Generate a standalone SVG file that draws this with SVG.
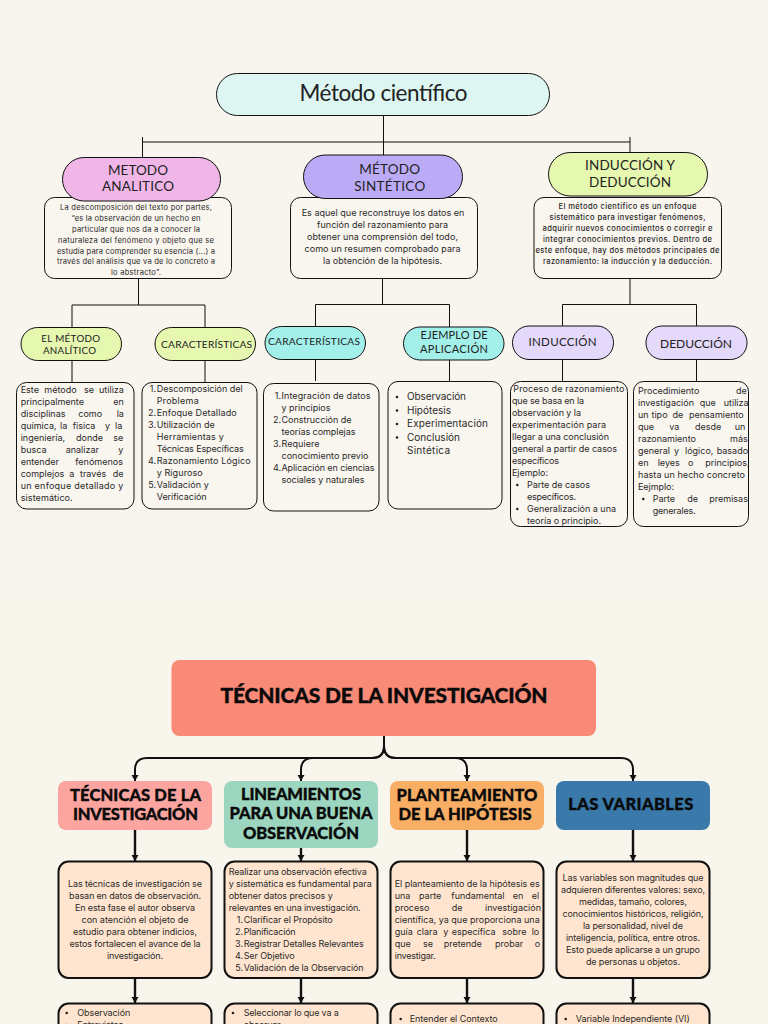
<svg xmlns="http://www.w3.org/2000/svg" width="768" height="1024" viewBox="0 0 768 1024">
<style>
text{font-family:"Inter","Liberation Sans",sans-serif;fill:#2a2a2a}
.m{text-anchor:middle}
.e{text-anchor:end}
.t{font-family:"Lato","Liberation Sans",sans-serif;fill:#222}
.h{font-family:"Lato","Liberation Sans",sans-serif;font-weight:900;fill:#0a0a0a;text-anchor:middle;stroke:#0a0a0a;stroke-width:.35px}
.s8{font-size:7.6px}
.s9{font-size:9px}
.b{fill:#f9f5ef;stroke:#111;stroke-width:1}
.p{stroke:#111;stroke-width:1}
.c{fill:none;stroke:#111;stroke-width:1}
.k{fill:none;stroke:#111;stroke-width:2}
.a{fill:none;stroke:#111;stroke-width:2.4}
.o{fill:#ffe5cf;stroke:#111;stroke-width:2}
.d{fill:#222}
</style>
<defs>
<marker id="ah" markerUnits="userSpaceOnUse" markerWidth="8" markerHeight="8" refX="7" refY="4" orient="auto"><path d="M1 0.5L7 4L1 7.5Z" fill="#111"/></marker>
</defs>
<rect x="0" y="0" width="768" height="600" fill="#f8f4ee"/>
<rect x="0" y="600" width="768" height="424" fill="#f8f5ec"/>
<g id="connectors">
<path class="c" d="M383.500 115V155M142.500 142H630M142.500 137V157M630 137V153"/>
<path class="c" d="M138.500 278V305M72 305H205M72 305V328M205 305V328M72 360V383M205 360V383"/>
<path class="c" d="M382.500 278V304.500M315.500 304.500H449.500M315.500 304.500V327M449.500 304.500V327M315.500 359V381M449.500 360V382"/>
<path class="c" d="M630 278V304.500M562.500 304.500H696.500M562.500 304.500V326M696.500 304.500V326M562.500 359V382M696.500 359V382"/>
<path class="k" d="M384 736V746Q384 758 372 758H147Q135 758 135 770V781" marker-end="url(#ah)"/>
<path class="k" d="M384 746Q384 758 372 758H313Q301 758 301 770V781" marker-end="url(#ah)"/>
<path class="k" d="M384 746Q384 758 396 758H455Q467 758 467 770V781" marker-end="url(#ah)"/>
<path class="k" d="M384 746Q384 758 396 758H621Q633 758 633 770V781" marker-end="url(#ah)"/>
<path class="a" d="M135 830V861" marker-end="url(#ah)"/>
<path class="a" d="M301 848V861" marker-end="url(#ah)"/>
<path class="a" d="M467 830V861" marker-end="url(#ah)"/>
<path class="a" d="M633 830V861" marker-end="url(#ah)"/>
<path class="a" d="M135 978V1003" marker-end="url(#ah)"/>
<path class="a" d="M301 978V1003" marker-end="url(#ah)"/>
<path class="a" d="M467 978V1003" marker-end="url(#ah)"/>
<path class="a" d="M633 978V1003" marker-end="url(#ah)"/>
</g>
<g id="n-metodo-cientifico">
<rect x="216.500" y="73.500" width="333" height="42" rx="21" fill="#ddf6f2" class="p"/>
<text x="383.500" y="100.700" class="m t" font-size="22.500" textLength="168">Método científico</text>
</g>
<g id="n-analitico-desc">
<rect class="b" x="44.500" y="197.500" width="187" height="81" rx="10"/>
<g class="s8">
<text x="136" y="210" class="m" textLength="152">La descomposición del texto por partes,</text>
<text x="136" y="221" class="m" textLength="129">“es la observación de un hecho en</text>
<text x="136" y="232" class="m" textLength="128">particular que nos da a conocer la</text>
<text x="136" y="242.500" class="m" textLength="156">naturaleza del fenómeno y objeto que se</text>
<text x="136" y="253.500" class="m" textLength="158">estudia para comprender su esencia (...) a</text>
<text x="136" y="264" class="m" textLength="158">través del análisis que va de lo concreto a</text>
<text x="136" y="274.500" class="m" textLength="50">lo abstracto”.</text>
</g>
</g>
<g id="n-analitico">
<rect x="62.500" y="157.500" width="158" height="43.500" rx="21.700" fill="#f0b6e8" class="p"/>
<text x="138" y="175" class="m t" font-size="13.500" textLength="60">METODO</text>
<text x="138" y="191" class="m t" font-size="13.500" textLength="72">ANALITICO</text>
</g>
<g id="n-sintetico-desc">
<rect class="b" x="290.500" y="197.500" width="187" height="81" rx="10"/>
<g class="s9">
<text x="383" y="216.300" class="m" textLength="162.700">Es aquel que reconstruye los datos en</text>
<text x="382.500" y="228.300" class="m" textLength="131">función del razonamiento para</text>
<text x="382.500" y="240.300" class="m" textLength="151">obtener una comprensión del todo,</text>
<text x="382.500" y="252.300" class="m" textLength="156">como un resumen comprobado para</text>
<text x="382.500" y="264.300" class="m" textLength="119">la obtención de la hipótesis.</text>
</g>
</g>
<g id="n-sintetico">
<rect x="303.500" y="155" width="159" height="43.500" rx="21.700" fill="#bbabf6" class="p"/>
<text x="389.700" y="174" class="m t" font-size="13.500" textLength="60.700">MÉTODO</text>
<text x="389.700" y="191" class="m t" font-size="13.500" textLength="71">SINTÉTICO</text>
</g>
<g id="n-induccion-desc">
<rect class="b" x="534" y="197.500" width="187.500" height="81" rx="10"/>
<g class="s8" font-weight="500">
<text x="627.500" y="209" class="m" textLength="138">El método científico es un enfoque</text>
<text x="627.500" y="220" class="m" textLength="156">sistemático para investigar fenómenos,</text>
<text x="627.500" y="231" class="m" textLength="170">adquirir nuevos conocimientos o corregir e</text>
<text x="627.500" y="242" class="m" textLength="169">integrar conocimientos previos. Dentro de</text>
<text x="627.500" y="253" class="m" textLength="184">este enfoque, hay dos métodos principales de</text>
<text x="627.500" y="264" class="m" textLength="169">razonamiento: la inducción y la deducción.</text>
</g>
</g>
<g id="n-induccion">
<rect x="548.500" y="152.500" width="159" height="43.500" rx="21.700" fill="#e6f7b0" class="p"/>
<text x="630" y="170" class="m t" font-size="13.500" textLength="90">INDUCCIÓN Y</text>
<text x="630" y="187" class="m t" font-size="13.500" textLength="82">DEDUCCIÓN</text>
</g>
<g id="n-el-metodo">
<rect x="21" y="327.500" width="100.500" height="33" rx="16.500" fill="#e6f7b0" class="p"/>
<text x="70.700" y="342" class="m t" font-size="9.800" textLength="59">EL MÉTODO</text>
<text x="69.500" y="354" class="m t" font-size="9.800" textLength="53">ANALÍTICO</text>
</g>
<g id="n-caract-1">
<rect x="155" y="327.500" width="100.500" height="33" rx="16.500" fill="#e6f7b0" class="p"/>
<text x="206.600" y="347.500" class="m t" font-size="10.200" textLength="91">CARACTERÍSTICAS</text>
</g>
<g id="n-caract-2">
<rect x="265" y="326.500" width="100.500" height="33" rx="16.500" fill="#a3f0ea" class="p"/>
<text x="314" y="345" class="m t" font-size="10.200" textLength="92">CARACTERÍSTICAS</text>
</g>
<g id="n-ejemplo">
<rect x="403.500" y="327" width="100.500" height="33" rx="16.500" fill="#a3f0ea" class="p"/>
<text x="454" y="339" class="m t" font-size="11" textLength="67">EJEMPLO DE</text>
<text x="454" y="353" class="m t" font-size="11" textLength="68">APLICACIÓN</text>
</g>
<g id="n-ind">
<rect x="512.500" y="326" width="101" height="33.500" rx="16.500" fill="#e4d8fb" class="p"/>
<text x="562.500" y="346" class="m t" font-size="11.500" textLength="68">INDUCCIÓN</text>
</g>
<g id="n-ded">
<rect x="646" y="326" width="101" height="33.500" rx="16.500" fill="#e4d8fb" class="p"/>
<text x="696" y="348" class="m t" font-size="12" textLength="72">DEDUCCIÓN</text>
</g>
<g id="n-box-1" class="s9">
<rect class="b" x="16.500" y="382.500" width="117.500" height="126.500" rx="10"/>
<text y="393.300"><tspan x="20.700">Este</tspan> <tspan x="44.300">método</tspan> <tspan x="84">se</tspan> <tspan x="99">utiliza</tspan></text>
<text y="405.300"><tspan x="20.700">principalmente</tspan> <tspan x="113.300">en</tspan></text>
<text y="417.300"><tspan x="20.700">disciplinas</tspan> <tspan x="78.300">como</tspan> <tspan x="116.700">la</tspan></text>
<text y="429.300"><tspan x="20.700">química,</tspan> <tspan x="60">la</tspan> <tspan x="72.700">física</tspan> <tspan x="105">y</tspan> <tspan x="115">la</tspan></text>
<text y="441.300"><tspan x="20.700">ingeniería,</tspan> <tspan x="76">donde</tspan> <tspan x="113.300">se</tspan></text>
<text y="453.300"><tspan x="20.700">busca</tspan> <tspan x="65.700">analizar</tspan> <tspan x="118.300">y</tspan></text>
<text y="465.300"><tspan x="20.700">entender</tspan> <tspan x="75.300">fenómenos</tspan></text>
<text y="477.300"><tspan x="20.700">complejos</tspan> <tspan x="69.300">a</tspan> <tspan x="80">través</tspan> <tspan x="112.700">de</tspan></text>
<text y="489.300" x="20.700" textLength="102.600">un enfoque detallado y</text>
<text y="501.300" x="20.700" textLength="52">sistemático.</text>
</g>
<g id="n-box-2" class="s9">
<rect class="b" x="142" y="382.500" width="115" height="126.500" rx="10"/>
<text x="156" y="392" class="e">1.</text><text x="156.700" y="392" textLength="86">Descomposición del</text>
<text x="156.700" y="404" textLength="42">Problema</text>
<text x="156" y="416" class="e">2.</text><text x="156.700" y="416" textLength="80">Enfoque Detallado</text>
<text x="156" y="428" class="e">3.</text><text x="156.700" y="428" textLength="58">Utilización de</text>
<text x="156.700" y="440" textLength="67">Herramientas y</text>
<text x="156.700" y="452" textLength="87">Técnicas Específicas</text>
<text x="156" y="464" class="e">4.</text><text x="156.700" y="464" textLength="94">Razonamiento Lógico</text>
<text x="156.700" y="476" textLength="46">y Riguroso</text>
<text x="156" y="488" class="e">5.</text><text x="156.700" y="488" textLength="52">Validación y</text>
<text x="156.700" y="500" textLength="50">Verificación</text>
</g>
<g id="n-box-3" class="s9">
<rect class="b" x="263.500" y="383.500" width="115.500" height="127.500" rx="10"/>
<text x="281" y="399" class="e">1.</text><text x="281.500" y="399" textLength="89">Integración de datos</text>
<text x="281.500" y="411" textLength="49">y principios</text>
<text x="281" y="423" class="e">2.</text><text x="281.500" y="423" textLength="70">Construcción de</text>
<text x="281.500" y="435" textLength="74">teorías complejas</text>
<text x="281" y="447" class="e">3.</text><text x="281.500" y="447" textLength="38">Requiere</text>
<text x="281.500" y="459" textLength="87">conocimiento previo</text>
<text x="281" y="471" class="e">4.</text><text x="281.500" y="471" textLength="93">Aplicación en ciencias</text>
<text x="281.500" y="483" textLength="83">sociales y naturales</text>
</g>
<g id="n-box-4" style="font-size:10px">
<rect class="b" x="388" y="381.500" width="114" height="127.500" rx="10"/>
<circle class="d" cx="397" cy="397" r="1.300"/><text x="407" y="400" textLength="59">Observación</text>
<circle class="d" cx="397" cy="410.500" r="1.300"/><text x="407" y="413.500" textLength="44">Hipótesis</text>
<circle class="d" cx="397" cy="424" r="1.300"/><text x="407" y="427" textLength="81">Experimentación</text>
<circle class="d" cx="397" cy="437.500" r="1.300"/><text x="407" y="440.500" textLength="53">Conclusión</text>
<text x="407" y="454" textLength="43">Sintética</text>
</g>
<g id="n-box-5" class="s9">
<rect class="b" x="510.500" y="381.500" width="117" height="145" rx="10"/>
<text x="513.300" y="392.300" textLength="111">Proceso de razonamiento</text>
<text x="512" y="404.300" textLength="72">que se basa en la</text>
<text x="512" y="416.300" textLength="69">observación y la</text>
<text x="512" y="428.300" textLength="94">experimentación para</text>
<text x="512" y="440.300" textLength="97">llegar a una conclusión</text>
<text x="512" y="452.300" textLength="105">general a partir de casos</text>
<text x="512" y="464.300" textLength="47">específicos</text>
<text x="512" y="476.300" textLength="36">Ejemplo:</text>
<circle class="d" cx="517.300" cy="485" r="1.300"/><text x="527" y="488.300" textLength="63">Parte de casos</text>
<text x="527" y="500.300" textLength="49">específicos.</text>
<circle class="d" cx="517.300" cy="509" r="1.300"/><text x="527" y="512.300" textLength="89">Generalización a una</text>
<text x="527" y="524.300" textLength="74">teoría o principio.</text>
</g>
<g id="n-box-6" class="s9">
<rect class="b" x="633.500" y="381.500" width="115" height="145" rx="10"/>
<text y="394"><tspan x="638">Procedimiento</tspan> <tspan x="736">de</tspan></text>
<text y="406"><tspan x="638">investigación</tspan> <tspan x="699.700">que</tspan> <tspan x="723.700">utiliza</tspan></text>
<text y="418"><tspan x="638">un</tspan> <tspan x="651.500">tipo</tspan> <tspan x="672.500">de</tspan> <tspan x="689">pensamiento</tspan></text>
<text y="430"><tspan x="638">que</tspan> <tspan x="669.300">va</tspan> <tspan x="695">desde</tspan> <tspan x="734.700">un</tspan></text>
<text y="442"><tspan x="638">razonamiento</tspan> <tspan x="730">más</tspan></text>
<text y="454"><tspan x="638">general</tspan> <tspan x="674">y</tspan> <tspan x="685">lógico,</tspan> <tspan x="716.700">basado</tspan></text>
<text y="466"><tspan x="638">en</tspan> <tspan x="657.700">leyes</tspan> <tspan x="688">o</tspan> <tspan x="705.300">principios,</tspan></text>
<text y="478" x="638" textLength="107">hasta un hecho concreto</text>
<text y="490" x="638" textLength="36">Eejmplo:</text>
<circle class="d" cx="643.300" cy="499" r="1.300"/><text y="502"><tspan x="652.700">Parte</tspan> <tspan x="687.300">de</tspan> <tspan x="709.300">premisas</tspan></text>
<text y="514" x="652.700" textLength="43">generales.</text>
</g>
<g id="n-tecnicas-main">
<rect x="171.500" y="660" width="424.500" height="76" rx="8" fill="#f98a78"/>
<text x="384" y="703" class="h" font-size="21" textLength="327">TÉCNICAS DE LA INVESTIGACIÓN</text>
</g>
<g id="n-tecnicas">
<rect x="58" y="781" width="154" height="49" rx="8" fill="#fca5a0"/>
<text x="135.500" y="800.700" class="h" font-size="16.500" textLength="131">TÉCNICAS DE LA</text>
<text x="135.500" y="820" class="h" font-size="16.500" textLength="125">INVESTIGACIÓN</text>
</g>
<g id="n-lineamientos">
<rect x="224" y="781" width="154" height="67" rx="8" fill="#9dd6c0"/>
<text x="301" y="800" class="h" font-size="16.500" textLength="120">LINEAMIENTOS</text>
<text x="301" y="819" class="h" font-size="16.500" textLength="143">PARA UNA BUENA</text>
<text x="301" y="838.700" class="h" font-size="16.500" textLength="116">OBSERVACIÓN</text>
</g>
<g id="n-planteamiento">
<rect x="390" y="781" width="154" height="49" rx="8" fill="#f9ae66"/>
<text x="467" y="800.700" class="h" font-size="16.500" textLength="141">PLANTEAMIENTO</text>
<text x="465" y="820" class="h" font-size="16.500" textLength="133">DE LA HIPÓTESIS</text>
</g>
<g id="n-variables">
<rect x="556" y="781" width="154" height="49" rx="8" fill="#3a7aab"/>
<text x="630.800" y="810" class="h" font-size="16.500" textLength="125">LAS VARIABLES</text>
</g>
<g id="n-t-desc" class="s9">
<rect class="o" x="58.500" y="861.500" width="153" height="116.500" rx="10"/>
<text x="135" y="887.300" class="m" textLength="134">Las técnicas de investigación se</text>
<text x="135" y="899.300" class="m" textLength="132">basan en datos de observación.</text>
<text x="135" y="911.300" class="m" textLength="120">En esta fase el autor observa</text>
<text x="135" y="923.300" class="m" textLength="107">con atención el objeto de</text>
<text x="135" y="935.300" class="m" textLength="124">estudio para obtener indicios,</text>
<text x="135" y="947.300" class="m" textLength="131">estos fortalecen el avance de la</text>
<text x="135" y="959.300" class="m" textLength="56">investigación.</text>
</g>
<g id="n-l-desc" class="s9">
<rect class="o" x="224.500" y="861.500" width="153" height="116.500" rx="10"/>
<text x="228.700" y="875.300" textLength="138">Realizar una observación efectiva</text>
<text x="228.700" y="887.300" textLength="143">y sistemática es fundamental para</text>
<text x="228.700" y="899.300" textLength="104">obtener datos precisos y</text>
<text x="228.700" y="911.300" textLength="132">relevantes en una investigación.</text>
<text x="243" y="923.300" class="e">1.</text><text x="243.700" y="923.300" textLength="89">Clarificar el Propósito</text>
<text x="243" y="935.300" class="e">2.</text><text x="243.700" y="935.300" textLength="52">Planificación</text>
<text x="243" y="947.300" class="e">3.</text><text x="243.700" y="947.300" textLength="120">Registrar Detalles Relevantes</text>
<text x="243" y="959.300" class="e">4.</text><text x="243.700" y="959.300" textLength="51">Ser Objetivo</text>
<text x="243" y="971.300" class="e">5.</text><text x="243.700" y="971.300" textLength="120">Validación de la Observación</text>
</g>
<g id="n-p-desc" class="s9">
<rect class="o" x="390.500" y="861.500" width="153" height="116.500" rx="10"/>
<text x="394.700" y="887.300" textLength="145">El planteamiento de la hipótesis es</text>
<text y="899.300"><tspan x="394.700">una</tspan> <tspan x="419">parte</tspan> <tspan x="451.300">fundamental</tspan> <tspan x="512.700">en</tspan> <tspan x="531.700">el</tspan></text>
<text y="911.300"><tspan x="394.700">proceso</tspan> <tspan x="451.700">de</tspan> <tspan x="485">investigación</tspan></text>
<text y="923.300" x="394.700" textLength="145">científica, ya que proporciona una</text>
<text y="935.300"><tspan x="394.700">guía</tspan> <tspan x="416.700">clara</tspan> <tspan x="443.300">y</tspan> <tspan x="451.700">específica</tspan> <tspan x="502.300">sobre</tspan> <tspan x="531.700">lo</tspan></text>
<text y="947.300"><tspan x="394.700">que</tspan> <tspan x="423">se</tspan> <tspan x="443.700">pretende</tspan> <tspan x="495">probar</tspan> <tspan x="534.700">o</tspan></text>
<text y="959.300" x="394.700" textLength="41">investigar.</text>
</g>
<g id="n-v-desc" class="s9">
<rect class="o" x="556.500" y="861.500" width="153" height="116.500" rx="10"/>
<text x="633" y="881.300" class="m" textLength="141">Las variables son magnitudes que</text>
<text x="633" y="893.300" class="m" textLength="144">adquieren diferentes valores: sexo,</text>
<text x="633" y="905.300" class="m" textLength="108">medidas, tamaño, colores,</text>
<text x="633" y="917.300" class="m" textLength="141">conocimientos históricos, religión,</text>
<text x="633" y="929.300" class="m" textLength="100">la personalidad, nivel de</text>
<text x="633" y="941.300" class="m" textLength="134">inteligencia, política, entre otros.</text>
<text x="633" y="953.300" class="m" textLength="134">Esto puede aplicarse a un grupo</text>
<text x="633" y="965.300" class="m" textLength="94">de personas u objetos.</text>
</g>
<g id="n-t-list" class="s9">
<rect class="o" x="58.500" y="1003.500" width="153" height="60" rx="10"/>
<circle class="d" cx="66.700" cy="1013" r="1.300"/><text x="77.300" y="1016" textLength="53">Observación</text>
<circle class="d" cx="66.700" cy="1025" r="1.300"/><text x="77.300" y="1028" textLength="46">Entrevistas</text>
</g>
<g id="n-l-list" class="s9">
<rect class="o" x="224.500" y="1003.500" width="153" height="60" rx="10"/>
<circle class="d" cx="233" cy="1013" r="1.300"/><text x="243.700" y="1016" textLength="95">Seleccionar lo que va a</text>
<text x="243.700" y="1028" textLength="37">observar</text>
</g>
<g id="n-p-list" class="s9">
<rect class="o" x="390.500" y="1003.500" width="153" height="60" rx="10"/>
<circle class="d" cx="400.700" cy="1019" r="1.300"/><text x="409.700" y="1022" textLength="88">Entender el Contexto</text>
</g>
<g id="n-v-list" class="s9">
<rect class="o" x="556.500" y="1003.500" width="153" height="60" rx="10"/>
<circle class="d" cx="565.700" cy="1019" r="1.300"/><text x="575.700" y="1022" textLength="114">Variable Independiente (VI)</text>
</g>
</svg>
